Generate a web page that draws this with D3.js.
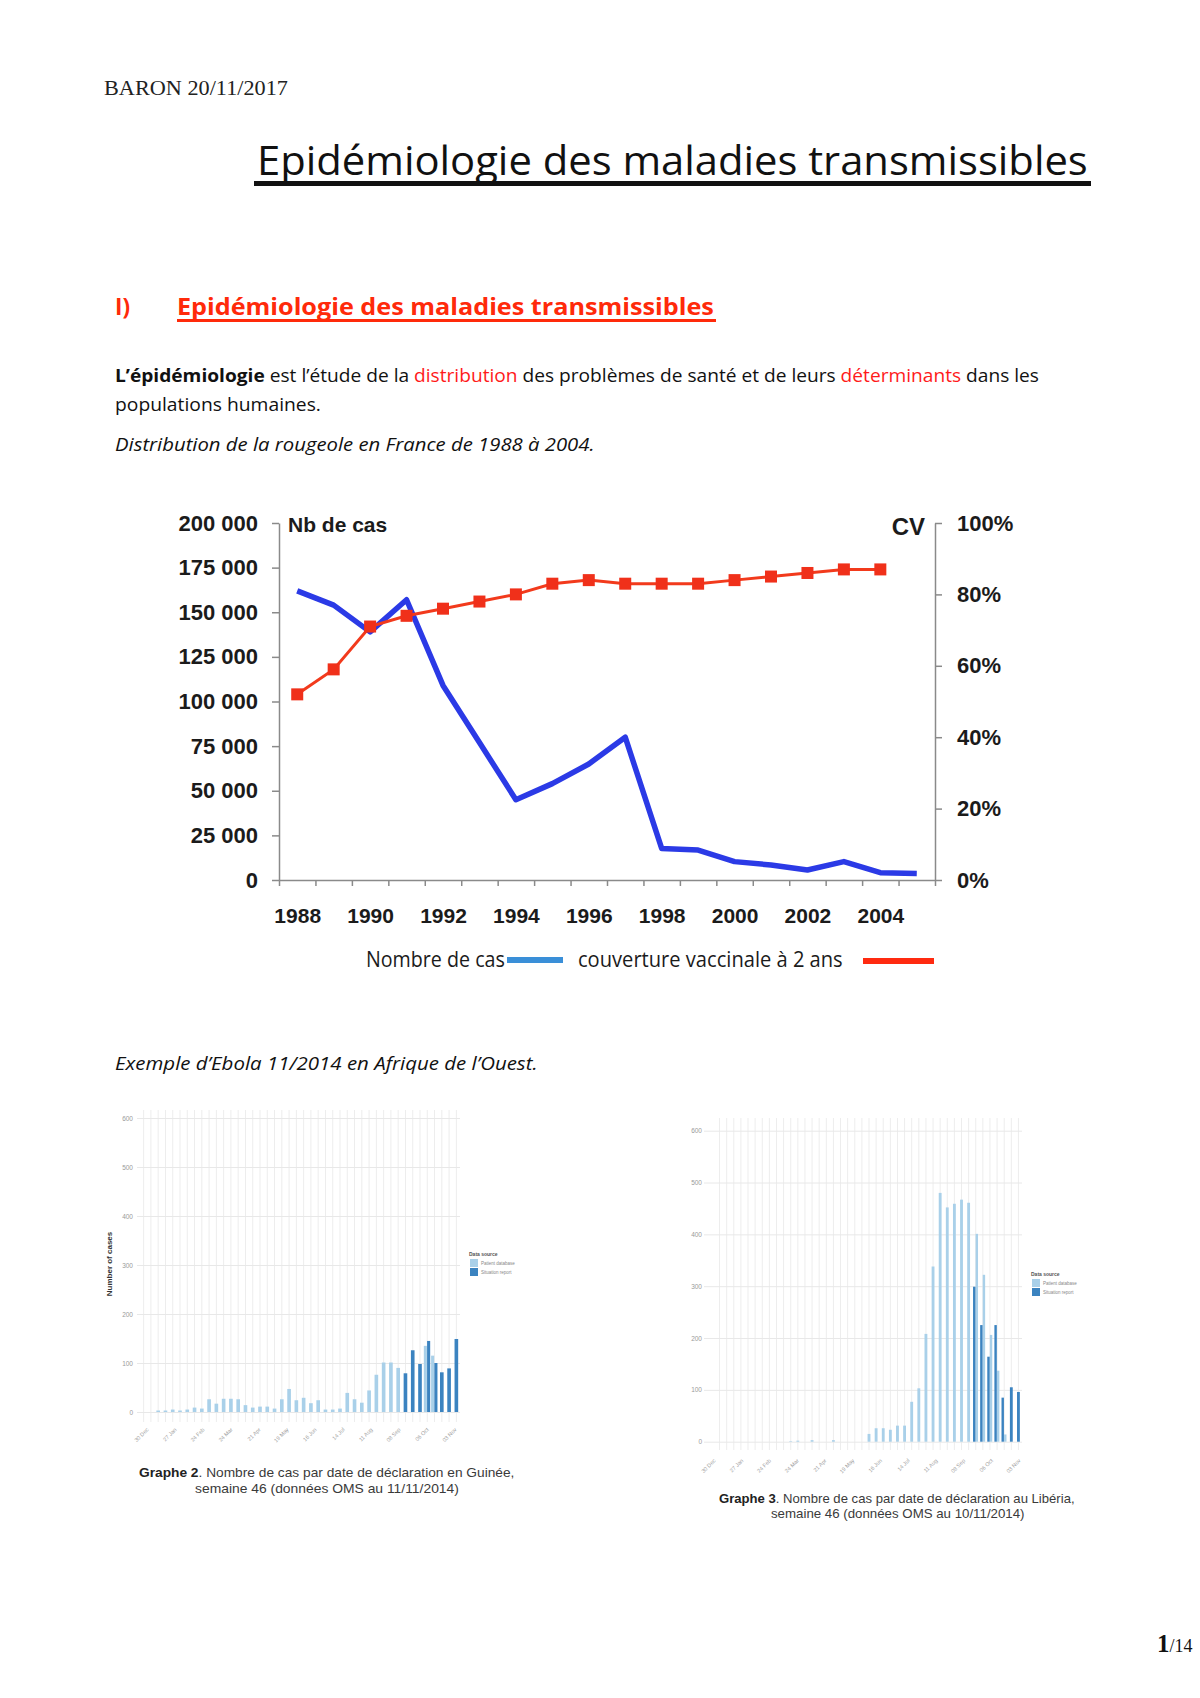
<!DOCTYPE html>
<html><head><meta charset="utf-8">
<script src="https://cdn.jsdelivr.net/npm/d3@7"></script>
<style>body{margin:0;background:#fff}svg{display:block}</style>
</head><body>
<svg id="page" width="1200" height="1698"></svg>
<script>
// ---------- DATA ----------
const years = [1988,1989,1990,1991,1992,1993,1994,1995,1996,1997,1998,1999,2000,2001,2002,2003,2004,2005];
const cases = [162000,154000,139000,157000,109000,77000,45000,54000,65000,80000,17700,16800,10300,8400,5600,10300,4100,3700];
const cvYears = [1988,1989,1990,1991,1992,1993,1994,1995,1996,1997,1998,1999,2000,2001,2002,2003,2004];
const coverage = [52,59,71,74,76,78,80,83,84,83,83,83,84,85,86,87,87];
const yearLabels = [1988,1990,1992,1994,1996,1998,2000,2002,2004];
const leftTicks = [0,25000,50000,75000,100000,125000,150000,175000,200000];
const rightTicks = [0,20,40,60,80,100];

const guineaLight = [0,0,3,3,5,3,5,9,7,26,17,27,27,26,14,9,11,11,7,26,47,24,29,18,24,5,5,7,39,26,19,44,76,101,101,90,0,0,0,135,115,0,0,0];
const guineaDark  = [0,0,0,0,0,0,0,0,0,0,0,0,0,0,0,0,0,0,0,0,0,0,0,0,0,0,0,0,0,0,0,0,0,0,0,0,79,126,98,145,100,81,89,149];
const liberiaLight = [0,0,0,0,0,0,0,0,0,0,1,2,0,3,0,0,3,0,0,0,0,15,26,26,23,31,31,77,103,208,338,480,452,459,467,461,401,322,206,137,14,0,0];
const liberiaDark  = [0,0,0,0,0,0,0,0,0,0,0,0,0,0,0,0,0,0,0,0,0,0,0,0,0,0,0,0,0,0,0,0,0,0,0,0,299,225,164,225,85,105,96];
const ebolaYTicks = [0,100,200,300,400,500,600];
const weekLabels = ["30 Dec","27 Jan","24 Feb","24 Mar","21 Apr","19 May","16 Jun","14 Jul","11 Aug","08 Sep","06 Oct","03 Nov"];

// ---------- HELPERS ----------
const svg = d3.select('#page');
svg.append('rect').attr('width',1200).attr('height',1698).attr('fill','#fff');
function fit(sel, x, w){
  const len = sel.node().getComputedTextLength();
  const s = w/len;
  sel.attr('transform',`translate(${x},0) scale(${s},1) translate(${-x},0)`);
  return sel;
}
const DOC = "'Open Sans','Noto Sans',sans-serif";
const ARIAL = "'Liberation Sans',Arial,sans-serif";

// ---------- DOCUMENT TEXT ----------
fit(svg.append('text').attr('x',104).attr('y',95).attr('font-family',"'Liberation Serif',serif").attr('font-size',21).attr('fill','#222').text('BARON 20/11/2017'),104,184);

fit(svg.append('text').attr('x',257).attr('y',175).attr('font-family',DOC).attr('font-size',40).attr('fill','#111').text('Epidémiologie des maladies transmissibles'),257,831);
svg.append('rect').attr('x',254).attr('y',181).attr('width',837).attr('height',5).attr('fill','#111');

fit(svg.append('text').attr('x',115).attr('y',315).attr('font-family',DOC).attr('font-weight','bold').attr('font-size',24).attr('fill','#ff2a0a').text('I)'),115,15);
fit(svg.append('text').attr('x',177).attr('y',315).attr('font-family',DOC).attr('font-weight','bold').attr('font-size',24).attr('fill','#ff2a0a').text('Epidémiologie des maladies transmissibles'),177,537);
svg.append('rect').attr('x',177).attr('y',319).attr('width',539).attr('height',3).attr('fill','#ff2a0a');

(function(){
  const t = svg.append('text').attr('x',115).attr('y',382).attr('font-family',DOC).attr('font-size',17.5).attr('fill','#111');
  t.append('tspan').attr('font-weight','bold').text('L’épidémiologie');
  t.append('tspan').text(' est l’étude de la ');
  t.append('tspan').attr('fill','#ff1a1a').text('distribution');
  t.append('tspan').text(' des problèmes de santé et de leurs ');
  t.append('tspan').attr('fill','#ff1a1a').text('déterminants');
  t.append('tspan').text(' dans les');
  fit(t,115,925);
})();
fit(svg.append('text').attr('x',115).attr('y',411).attr('font-family',DOC).attr('font-size',17.5).attr('fill','#111').text('populations humaines.'),115,206);
fit(svg.append('text').attr('x',115).attr('y',451).attr('font-family',DOC).attr('font-style','italic').attr('font-size',17.5).attr('fill','#111').text('Distribution de la rougeole en France de 1988 à 2004.'),115,480);
fit(svg.append('text').attr('x',115).attr('y',1070).attr('font-family',DOC).attr('font-style','italic').attr('font-size',17.5).attr('fill','#111').text('Exemple d’Ebola 11/2014 en Afrique de l’Ouest.'),115,423);

(function(){
  const t = svg.append('text').attr('x',1157).attr('y',1652).attr('font-family',"'Liberation Serif',serif").attr('fill','#111');
  t.append('tspan').attr('font-size',25).attr('font-weight','bold').text('1');
  t.append('tspan').attr('font-size',18).text('/14');
})();

// ---------- MAIN CHART ----------
const X0 = 279, X1 = 935, YT = 523, YB = 880;
const x = d3.scaleLinear().domain([1987.5,2005.5]).range([X0,X1]);
const yL = d3.scaleLinear().domain([0,200000]).range([YB,YT]);
const yR = d3.scaleLinear().domain([0,100]).range([YB,YT]);
const AX = '#8a8a8a';
const fmtSpace = v => d3.format(',')(v).replace(/,/g,' ');

function styleAxis(g, size){
  g.attr('font-family',ARIAL).attr('font-weight','bold').attr('font-size',size);
  g.selectAll('path.domain').attr('stroke',AX).attr('stroke-width',1.5);
  g.selectAll('.tick line').attr('stroke',AX).attr('stroke-width',1.5);
  g.selectAll('.tick text').attr('fill','#1b1b1b');
}
styleAxis(svg.append('g').attr('transform',`translate(${X0},0)`)
  .call(d3.axisLeft(yL).tickValues(leftTicks).tickSize(7).tickSizeOuter(0).tickPadding(14).tickFormat(fmtSpace)),22);
styleAxis(svg.append('g').attr('transform',`translate(${X1},0)`)
  .call(d3.axisRight(yR).tickValues(rightTicks).tickSize(7).tickSizeOuter(0).tickPadding(15).tickFormat(d=>d+'%')),22);
const bounds = years.map(y=>y-0.5).concat([years[years.length-1]+0.5]);
styleAxis(svg.append('g').attr('transform',`translate(0,${YB})`)
  .call(d3.axisBottom(x).tickValues(bounds).tickSize(6).tickSizeOuter(0).tickFormat('')),22);
const gxl = svg.append('g').attr('transform',`translate(0,${YB})`)
  .call(d3.axisBottom(x).tickValues(yearLabels).tickSize(0).tickPadding(28).tickFormat(d3.format('d')));
gxl.select('path.domain').remove();
styleAxis(gxl,21);

svg.append('text').attr('x',288).attr('y',532).attr('font-family',ARIAL).attr('font-weight','bold').attr('font-size',21).attr('fill','#1b1b1b').text('Nb de cas');
svg.append('text').attr('x',925).attr('y',535).attr('text-anchor','end').attr('font-family',ARIAL).attr('font-weight','bold').attr('font-size',24).attr('fill','#1b1b1b').text('CV');

svg.append('path').datum(years.map((y,i)=>[y,cases[i]]))
  .attr('d',d3.line().x(d=>x(d[0])).y(d=>yL(d[1])))
  .attr('fill','none').attr('stroke','#2b3ae6').attr('stroke-width',5.5).attr('stroke-linejoin','round');
svg.append('path').datum(cvYears.map((y,i)=>[y,coverage[i]]))
  .attr('d',d3.line().x(d=>x(d[0])).y(d=>yR(d[1])))
  .attr('fill','none').attr('stroke','#f23a1c').attr('stroke-width',3);
svg.append('g').selectAll('rect').data(cvYears.map((y,i)=>[y,coverage[i]])).join('rect')
  .attr('x',d=>x(d[0])-6).attr('y',d=>yR(d[1])-6).attr('width',12).attr('height',12)
  .attr('fill','#f0301a');

// legend
fit(svg.append('text').attr('x',366).attr('y',967).attr('font-family',DOC).attr('font-size',21).attr('fill','#1b1b1b').text('Nombre de cas'),366,139);
svg.append('rect').attr('x',507).attr('y',957).attr('width',56).attr('height',6).attr('fill','#3a8fd8');
fit(svg.append('text').attr('x',578).attr('y',967).attr('font-family',DOC).attr('font-size',21).attr('fill','#1b1b1b').text('couverture vaccinale à 2 ans'),578,265);
svg.append('rect').attr('x',863).attr('y',958).attr('width',71).attr('height',6).attr('fill','#ff2a10');

// ---------- EBOLA CHARTS ----------
const LIGHT = '#a9d0e9', DARK = '#3b83c0';
function ebola(o){
  const g = svg.append('g');
  const n = o.light.length;
  const xb = d3.scaleBand().domain(d3.range(n)).range([o.x0,o.x1]).paddingInner(o.pad).paddingOuter(o.pad/2);
  const y = d3.scaleLinear().domain([0,600]).range([o.y0,o.ytop]);
  g.selectAll('line.v').data(d3.range(n)).join('line')
    .attr('x1',d=>xb(d)+xb.bandwidth()/2).attr('x2',d=>xb(d)+xb.bandwidth()/2)
    .attr('y1',o.gtop).attr('y2',o.gbot).attr('stroke','#ededed').attr('stroke-width',1);
  const ga = g.append('g').attr('transform',`translate(${o.gx0},0)`)
    .call(d3.axisLeft(y).tickValues(ebolaYTicks).tickSize(-(o.x1-o.gx0)).tickPadding(o.tp).tickFormat(d3.format('d')));
  ga.select('path.domain').remove();
  ga.selectAll('.tick line').attr('stroke','#e8e8e8');
  ga.selectAll('.tick text').attr('fill','#9a9a9a').attr('font-size',6.5).attr('font-family',ARIAL);
  const bw = xb.bandwidth();
  const bars = [];
  o.light.forEach((v,i)=>{
    const dv = o.dark[i];
    if (v>0 && dv>0){
      bars.push({i, v, c:LIGHT, off:o.lightFirst? -bw*0.45 : bw*0.45, w:bw*0.85});
      bars.push({i, v:dv, c:DARK, off:o.lightFirst? bw*0.45 : -bw*0.45, w:bw*0.85});
    } else if (v>0){ bars.push({i,v,c:LIGHT,off:0,w:bw}); }
    else if (dv>0){ bars.push({i,v:dv,c:DARK,off:0,w:bw}); }
  });
  g.selectAll('rect.b').data(bars).join('rect')
    .attr('x',d=>xb(d.i)+d.off).attr('width',d=>d.w)
    .attr('y',d=>y(d.v)).attr('height',d=>y(0)-y(d.v)).attr('fill',d=>d.c);
  const xl = d3.scalePoint().domain(weekLabels).range([o.lx0,o.lx1]);
  g.selectAll('text.wl').data(weekLabels).join('text')
    .attr('transform',d=>`translate(${xl(d)},${o.ly}) rotate(-45)`)
    .attr('text-anchor','end').attr('font-family',ARIAL).attr('font-size',5.5).attr('fill','#a0a0a0').text(d=>d);
  if (o.ytitle){
    g.append('text').attr('transform',`translate(${o.ytitle[0]},${o.ytitle[1]}) rotate(-90)`)
      .attr('text-anchor','middle').attr('font-family',ARIAL).attr('font-weight','bold').attr('font-size',8).attr('fill','#333').text('Number of cases');
  }
  const L = o.legend;
  g.append('text').attr('x',L[0]).attr('y',L[1]).attr('font-family',ARIAL).attr('font-weight','bold').attr('font-size',5).attr('fill','#555').text('Data source');
  g.append('rect').attr('x',L[0]+1).attr('y',L[1]+3).attr('width',8).attr('height',8).attr('fill',LIGHT);
  g.append('rect').attr('x',L[0]+1).attr('y',L[1]+12).attr('width',8).attr('height',8).attr('fill',DARK);
  g.append('text').attr('x',L[0]+12).attr('y',L[1]+9).attr('font-family',ARIAL).attr('font-size',4.5).attr('fill','#888').text('Patient database');
  g.append('text').attr('x',L[0]+12).attr('y',L[1]+18).attr('font-family',ARIAL).attr('font-size',4.5).attr('fill','#888').text('Situation report');
  const c1 = g.append('text').attr('x',o.cap[0]).attr('y',o.cap[1]).attr('font-family',ARIAL).attr('font-size',13).attr('fill','#3a3a3a');
  c1.append('tspan').attr('font-weight','bold').attr('fill','#222').text(o.capBold);
  c1.append('tspan').text(o.cap1);
  fit(c1,o.cap[0],o.cap[2]);
  fit(g.append('text').attr('x',o.cap2[0]).attr('y',o.cap2[1]).attr('font-family',ARIAL).attr('font-size',13).attr('fill','#3a3a3a').text(o.cap2t),o.cap2[0],o.cap2[2]);
}

ebola({light:guineaLight, dark:guineaDark, x0:140, x1:460, gx0:137, pad:0.5, y0:1412, ytop:1118, gtop:1110, gbot:1422, tp:4,
  lx0:149, lx1:457, ly:1430, ytitle:[112,1264], legend:[469,1256], lightFirst:true,
  capBold:'Graphe 2', cap1:'. Nombre de cas par date de déclaration en Guinée,', cap:[139,1477,376],
  cap2t:'semaine 46 (données OMS au 11/11/2014)', cap2:[195,1493,264]});
ebola({light:liberiaLight, dark:liberiaDark, x0:716, x1:1022, gx0:704, pad:0.6, y0:1441.7, ytop:1130.7, gtop:1118, gbot:1450, tp:2,
  lx0:716, lx1:1021, ly:1461, ytitle:null, legend:[1031,1276], lightFirst:false,
  capBold:'Graphe 3', cap1:'. Nombre de cas par date de déclaration au Libéria,', cap:[719,1503,356],
  cap2t:'semaine 46 (données OMS au 10/11/2014)', cap2:[771,1518,254]});
</script>
</body></html>
